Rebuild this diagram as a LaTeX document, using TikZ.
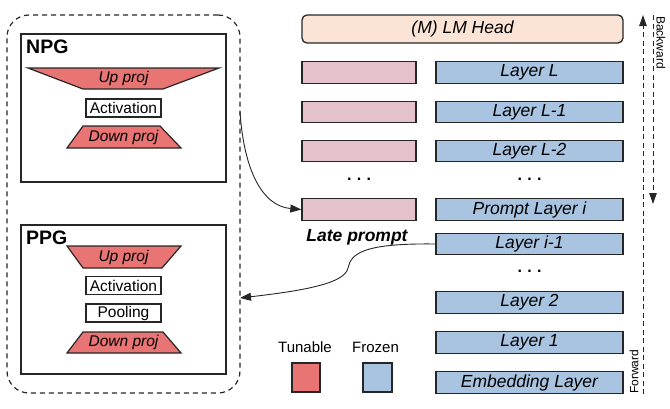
\documentclass[tikz,border=0pt]{standalone}
\usepackage{fontspec}
\setmainfont{Liberation Sans}
\usetikzlibrary{arrows.meta}
\definecolor{dark}{HTML}{262626}
\definecolor{tred}{HTML}{E87474}
\definecolor{tpink}{HTML}{E5C1CC}
\definecolor{tblue}{HTML}{A9C4E1}
\definecolor{tpeach}{HTML}{FBE4D6}
\newcommand{\fs}[1]{\fontsize{#1}{#1}\selectfont}
\tikzset{
  lay/.style={draw=dark, line width=1.3pt, fill=tblue, inner sep=0pt, minimum width=187pt, minimum height=21.5pt, font=\fs{17.5}\itshape},
  pbox/.style={draw=dark, line width=1.3pt, fill=tpink, inner sep=0pt, minimum width=114pt, minimum height=21.5pt},
  wbox/.style={draw=dark, line width=1.2pt, fill=white, inner sep=0pt, minimum width=75pt, minimum height=18pt, font=\fs{15.5}},
  trap/.style={draw=dark, line width=1.2pt, fill=tred},
  tlab/.style={font=\fs{15.5}\itshape, inner sep=0pt},
  gbox/.style={draw=dark, line width=1.3pt, inner sep=0pt},
  dots/.style={font=\fs{16}\bfseries, inner sep=0pt},
  conn/.style={draw=dark, line width=0.9pt, -{Triangle[length=11pt,width=8pt]}},
  dirline/.style={draw=dark, line width=1pt, dash pattern=on 5pt off 3.5pt, -{Triangle[length=11pt,width=7.5pt]}},
}
\begin{document}
\begin{tikzpicture}[x=1pt,y=-1pt]
\useasboundingbox (0,0) rectangle (670,408);
% outer dashed container
\node[draw=dark, line width=1.2pt, dash pattern=on 5pt off 4pt, rounded corners=22pt, minimum width=233pt, minimum height=378pt, inner sep=0pt] (outer) at (123.5,204) {};
% NPG
\node[gbox, minimum width=205pt, minimum height=148pt] (npg) at (123.5,108) {};
\node[anchor=west, font=\fs{19.5}\bfseries, inner sep=0pt] (npgl) at (26,47) {NPG};
\filldraw[trap] (28,68) -- (219,68) -- (163,89) -- (83,89) -- cycle;
\node[tlab] (nup) at (123.5,78.5) {Up proj};
\node[wbox] (nact) at (123.5,108) {Activation};
\filldraw[trap] (83,126) -- (160,126) -- (181,148) -- (67,148) -- cycle;
\node[tlab] (ndown) at (123.5,137) {Down proj};
% PPG
\node[gbox, minimum width=205pt, minimum height=149pt] (ppg) at (123.5,299.5) {};
\node[anchor=west, font=\fs{19.5}\bfseries, inner sep=0pt] (ppgl) at (26,238) {PPG};
\filldraw[trap] (67,246) -- (181,246) -- (162,268) -- (83,268) -- cycle;
\node[tlab] (pup) at (123.5,257) {Up proj};
\node[wbox] (pact) at (123.5,285.5) {Activation};
\node[wbox] (ppool) at (123.5,313) {Pooling};
\filldraw[trap] (83,332) -- (163,332) -- (181,353) -- (67,353) -- cycle;
\node[tlab] (pdown) at (123.5,342.5) {Down proj};
% LM head
\node[draw=dark, line width=1.3pt, fill=tpeach, rounded corners=5pt, minimum width=321pt, minimum height=28pt, inner sep=0pt, font=\fs{17.5}\itshape] (head) at (462.5,29) {(M) LM Head};
% prompt column
\node[pbox] (p1) at (359,72.5) {};
\node[pbox] (p2) at (359,112) {};
\node[pbox] (p3) at (359,151) {};
\node[dots] (pd) at (359,179) {.\,\,.\,\,.};
\node[pbox] (late) at (359,209.5) {};
\node[font=\fs{17.5}\bfseries\itshape, inner sep=0pt] (latel) at (357,237) {Late prompt};
% layer column
\node[lay] (lL) at (529.5,72.5) {Layer L};
\node[lay] (lL1) at (529.5,112) {Layer L-1};
\node[lay] (lL2) at (529.5,151) {Layer L-2};
\node[dots] (ld1) at (529.5,179) {.\,\,.\,\,.};
\node[lay] (lpi) at (529.5,209.5) {Prompt Layer i};
\node[lay] (li1) at (529.5,244) {Layer i-1};
\node[dots] (ld2) at (529.5,271) {.\,\,.\,\,.};
\node[lay] (l2) at (529.5,302.5) {Layer 2};
\node[lay] (l1) at (529.5,342.5) {Layer 1};
\node[lay] (emb) at (529.5,382.5) {Embedding Layer};
% legend
\node[font=\fs{15}, inner sep=0pt] (tunl) at (305,347) {Tunable};
\node[font=\fs{15}, inner sep=0pt] (frol) at (375.5,347) {Frozen};
\node[draw=dark, line width=1.3pt, fill=tred, minimum width=28pt, minimum height=29pt, inner sep=0pt] (tunsq) at (306,377.5) {};
\node[draw=dark, line width=1.3pt, fill=tblue, minimum width=29pt, minimum height=29pt, inner sep=0pt] (frosq) at (377.5,377.5) {};
% forward / backward
\coordinate (fb) at (643,394);
\coordinate (ft) at (643,15);
\coordinate (bt) at (653,15);
\coordinate (bb) at (653,204);
\draw[dirline] (fb) -- (ft);
\draw[dirline] (bt) -- (bb);
\node[rotate=90, font=\fs{12}, inner sep=0pt, anchor=west] (fwd) at (634,394) {Forward};
\node[rotate=-90, font=\fs{12}, inner sep=0pt, anchor=west] (bwd) at (661,16) {Backward};
% connectors
\coordinate (c1) at (240,112);
\draw[conn] (c1) .. controls (244,170) and (262,206) .. (late.west);
\coordinate (c2) at (240,298);
\draw[conn] (li1.west) .. controls (362,243) and (351,254) .. (348,268) .. controls (345,284) and (300,291) .. (c2);
\end{tikzpicture}
\end{document}
